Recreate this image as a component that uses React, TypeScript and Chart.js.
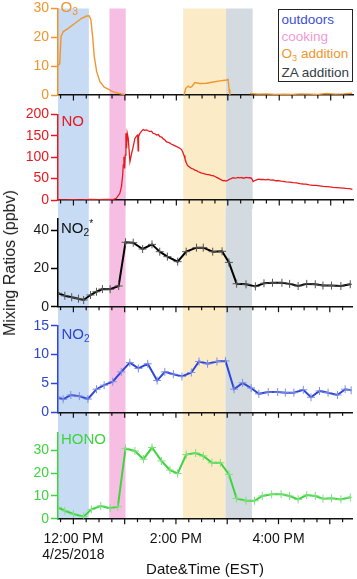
import React, { useEffect, useRef } from "react";
import { Chart, registerables } from "chart.js";

Chart.register(...registerables);

const FONT = "'Liberation Sans', Arial, Helvetica, sans-serif";

// ---- time axis (minutes since midnight, 4/25/2018) ----
const xMinMinutes = 702;
const xMaxMinutes = 1046;
const xTickStep = 15;
const xMajorLabelMinutes = [720, 840, 960];
const xMajorLabels: (string | string[])[] = [["12:00 PM", "4/25/2018"], "2:00 PM", "4:00 PM"];
const xTitle = "Date&Time (EST)";
const yTitle = "Mixing Ratios (ppbv)";

// ---- shaded periods ----
const bandStart = [702, 762, 848, 898];
const bandEnd = [738, 781, 898, 929];
const bandFill = ["#c7dbf5", "#f7bee3", "#fcebc7", "#d3dbe0"];

// ---- O3 ----
const o3Times = [702, 704, 705.5, 708.2, 714, 721.8, 729.6, 735.4, 738.5, 740.4, 742.4, 744.3, 747.1, 750.9, 755.9, 760.6, 766.4, 772.2, 780, 790,
  849, 851, 853.8, 856, 858, 861.6, 867.4, 875.2, 883, 890.7, 898.5, 900.4, 901.5, 902.4, 912,
  926, 935, 945, 955, 965, 975, 985, 995, 1005, 1015, 1025, 1035, 1045];
const o3Values: (number | null)[] = [10.2, 10.8, 20.2, 22, 23.1, 24.9, 26.6, 27.4, 27.4, 26, 20.2, 13.3, 8.1, 4.6, 2.7, 2.0, 1.1, 0.6, 0.1, null,
  0, 2.3, 3.1, 2.6, 2.9, 4.3, 4.0, 4.1, 4.5, 4.9, 5.2, 5.4, 2, 0, null,
  0.5, 0.3, 0.4, 0.2, 0.3, 0.2, 0.4, 0.3, 0.2, 0.5, 0.3, 0.4, 0.6];

// ---- NO ----
const noTimes = [702, 710, 720, 730, 740, 750, 760, 766, 770, 774, 776, 777.4, 778.1, 778.9, 779.7, 780.4, 781.2, 782, 782.7, 783.9,
  785.9, 787.9, 789.7, 791.7, 793.7, 794.9, 795.5, 795.9, 797.5, 799.5, 801.4, 803, 805.3, 807, 809.2, 811, 813, 815, 817, 819,
  820.8, 823, 824.7, 826.5, 828.6, 830.5, 832.5, 834, 836.3, 838, 840.3, 842, 844.1, 846, 847.3, 849, 850, 851.5, 852.7, 854,
  855.8, 857.5, 859.6, 861.5, 863.6, 865.5, 867.4, 869.5, 871.3, 873, 875.2, 877, 879.1, 881, 883, 885, 886.9, 888.8, 890.7, 892.5,
  894.6, 896, 897.7, 900, 902.4, 904, 906.2, 908, 910.2, 912, 914, 916, 918, 921.8, 924, 926, 927.7, 929.5, 931, 933.5,
  936, 938.5, 941.2, 944, 947, 950, 952.8, 956, 959, 962, 964.5, 968, 972, 976.1, 980, 984, 987.8, 991, 995, 999.4,
  1003, 1007, 1011.1, 1015, 1019, 1022.7, 1027, 1031, 1034.4, 1038, 1042, 1045.3];
const noValues = [0.5, 0.3, 1.0, 0.5, 1.2, 0.8, 1.5, 1, 4, 15, 31, 58, 82, 101, 74, 105, 156, 121, 156, 144,
  90, 109, 125, 144, 150, 152, 115, 148, 156, 161, 165, 163, 164, 162, 160, 161, 156, 155, 152, 153,
  148, 147, 143, 141, 136, 135, 133, 131, 129, 127, 125, 123, 121, 118, 113, 104, 97, 88, 82, 79,
  76.5, 74, 72.5, 70, 68.6, 66, 64.7, 63, 62.4, 61, 60, 59.5, 58.5, 57, 57, 55, 53, 51, 49, 47,
  45, 46, 44.4, 46, 49, 50, 52, 51, 52, 53, 52, 53, 51, 53, 52, 52, 50.7, 43, 45, 47,
  49, 48, 48.4, 47, 48, 46.5, 46.8, 45, 45.5, 44, 43.7, 42.5, 42, 40.6, 40, 38.5, 37.4, 37, 35.5, 34.3,
  34, 33, 32, 31.5, 30.5, 29.6, 29, 28.5, 28, 27, 26.5, 25];

// ---- NO2* ----
const no2sTimes = [702, 710, 718, 726, 732, 740, 747, 754, 763, 773, 781, 790, 801, 812, 821, 830, 842, 852, 864, 872,
  883, 894, 902, 911, 922, 933, 943, 953, 964, 973, 983, 993, 1003, 1012, 1022, 1033, 1044];
const no2sValues = [7.0, 5.7, 4.9, 4.2, 3.5, 6.1, 7.8, 9.2, 9.1, 10.8, 33.6, 33.4, 30.1, 32.5, 28.7, 26.1, 23.5, 28.7, 30.8, 30.8,
  28.7, 28.9, 23.1, 12.0, 11.7, 10.6, 12.2, 12.5, 12.5, 11.9, 10.8, 11.9, 11.7, 11.0, 11.0, 10.8, 11.7];

// ---- NO2 ----
const no2Times = [702, 708, 717, 727, 737, 747, 756, 766, 776, 786, 796, 807, 818, 827, 837, 847, 858, 867, 877, 888,
  898, 908, 918, 928, 937, 948, 959, 968, 978, 989, 998, 1008, 1018, 1029, 1038, 1045];
const no2Values = [2.6, 2.25, 3.0, 2.8, 2.3, 4.0, 4.7, 5.3, 7.0, 8.6, 7.6, 8.4, 5.5, 7.0, 6.6, 6.2, 6.9, 8.8, 8.4, 8.8,
  8.9, 4.0, 5.1, 4.2, 3.2, 3.5, 3.5, 3.4, 3.4, 3.9, 2.6, 3.7, 3.4, 3.0, 4.0, 3.8];

// ---- HONO ----
const honoTimes = [702, 710, 720, 732, 741, 752, 763, 772, 781, 792, 802, 812, 823, 833, 842, 852, 863, 872, 882, 892,
  902, 911, 922, 932, 941, 952, 963, 973, 983, 993, 1003, 1012, 1022, 1033, 1044];
const honoValues = [5.0, 3.5, 2.1, 0.9, 4.1, 5.6, 4.6, 5.3, 30.9, 29.8, 26.2, 31.3, 25.4, 21.4, 19.9, 28.2, 28.9, 27.6, 24.6, 24.6,
  19.5, 8.9, 7.9, 7.9, 10.0, 10.7, 10.8, 10.0, 8.5, 10.4, 10.0, 8.8, 9.0, 8.5, 9.4];

type PanelDef = {
  name: string;
  top: number;
  height: number;
  padTop: number;
  axisH: number;
  yMax: number;
  yStep: number;
  color: string;
  tickColor: string;
  markerColor: string;
  times: number[];
  values: (number | null)[];
  lineWidth: number;
  markers: boolean;
  last: boolean;
  first: boolean;
};

const panels: PanelDef[] = [
  { name: "o3", top: -4, height: 108, padTop: 12.5, axisH: 9, yMax: 30, yStep: 10, color: "#f0952d", tickColor: "#f0952d", markerColor: "#f0952d",
    times: o3Times, values: o3Values, lineWidth: 1.4, markers: false, last: false, first: true },
  { name: "no", top: 104, height: 105, padTop: 10.5, axisH: 9, yMax: 200, yStep: 50, color: "#e8191e", tickColor: "#e8191e", markerColor: "#e8191e",
    times: noTimes, values: noValues, lineWidth: 1.3, markers: false, last: false, first: false },
  { name: "no2s", top: 209, height: 107, padTop: 9.5, axisH: 9.3, yMax: 46, yStep: 20, color: "#000000", tickColor: "#1a1a1a", markerColor: "#555555",
    times: no2sTimes, values: no2sValues, lineWidth: 2, markers: true, last: false, first: false },
  { name: "no2", top: 316, height: 106, padTop: 9.7, axisH: 9.7, yMax: 15, yStep: 5, color: "#2d45d8", tickColor: "#2d45d8", markerColor: "#7f8fe0",
    times: no2Times, values: no2Values, lineWidth: 2, markers: true, last: false, first: false },
  { name: "hono", top: 422, height: 157, padTop: 10.3, axisH: 60.3, yMax: 38, yStep: 10, color: "#3ed43e", tickColor: "#3ed43e", markerColor: "#7fe07f",
    times: honoTimes, values: honoValues, lineWidth: 2, markers: true, last: true, first: false },
];

function makePlugin(p: PanelDef) {
  return {
    id: "bandsAndTicks",
    beforeDraw(chart: any) {
      const { ctx, chartArea, scales } = chart;
      const x = scales.x;
      const top = p.first ? chartArea.top : 0;
      const bottom = p.last ? chartArea.bottom : chart.height;
      ctx.save();
      bandStart.forEach((s, i) => {
        const x0 = x.getPixelForValue(s);
        const x1 = x.getPixelForValue(bandEnd[i]);
        ctx.fillStyle = bandFill[i];
        ctx.fillRect(x0, top, x1 - x0, bottom - top);
      });
      ctx.restore();
    },
    afterDraw(chart: any) {
      const { ctx, chartArea, scales } = chart;
      const x = scales.x;
      ctx.save();
      ctx.strokeStyle = "#111111";
      ctx.lineWidth = 1.2;
      x.ticks.forEach((t: any) => {
        const px = x.getPixelForValue(t.value);
        const len = t.value % 60 === 0 ? 5.5 : 3.5;
        ctx.beginPath();
        ctx.moveTo(px, chartArea.bottom);
        ctx.lineTo(px, chartArea.bottom + len);
        ctx.stroke();
      });
      ctx.restore();
    },
  };
}

function PanelChart({ p }: { p: PanelDef }) {
  const ref = useRef<HTMLCanvasElement>(null);
  useEffect(() => {
    const canvas = ref.current;
    if (!canvas) return;
    const data = p.times.map((t, i) => ({ x: t, y: p.values[i] }));
    const chart = new Chart(canvas, {
      type: "line",
      data: {
        datasets: [
          {
            data: data as any,
            borderColor: p.color,
            borderWidth: p.lineWidth,
            pointStyle: "cross",
            pointRadius: p.markers ? 4 : 0,
            pointHoverRadius: 0,
            pointBorderColor: p.markerColor,
            pointBorderWidth: 1,
            tension: 0,
            spanGaps: false,
            fill: false,
          },
        ],
      },
      options: {
        animation: false,
        responsive: false,
        maintainAspectRatio: false,
        events: [],
        layout: { padding: { left: 0, right: 4, top: p.padTop, bottom: 0 } },
        plugins: { legend: { display: false }, tooltip: { enabled: false }, title: { display: false } },
        scales: {
          x: {
            type: "linear",
            min: xMinMinutes,
            max: xMaxMinutes,
            afterFit: (s: any) => {
              s.height = p.axisH;
            },
            border: { display: true, color: "#111111", width: 1.5 },
            grid: { display: false, drawTicks: false, tickLength: 0 },
            ticks: {
              display: p.last,
              stepSize: xTickStep,
              includeBounds: false,
              autoSkip: false,
              maxRotation: 0,
              minRotation: 0,
              padding: 12,
              color: "#111111",
              font: { family: FONT, size: 14, lineHeight: 1.15 },
              callback: (v: any) => {
                const idx = xMajorLabelMinutes.indexOf(Number(v));
                return idx >= 0 ? xMajorLabels[idx] : "";
              },
            },
            title: {
              display: p.last,
              text: xTitle,
              color: "#111111",
              font: { family: FONT, size: 15, lineHeight: 1.2 },
              padding: { top: 0, bottom: 0 },
            },
          },
          y: {
            type: "linear",
            min: 0,
            max: p.yMax,
            afterFit: (s: any) => {
              s.width = 58;
            },
            border: { display: true, color: p.color, width: 1.5 },
            grid: { drawOnChartArea: false, drawTicks: true, tickLength: 7, tickColor: p.color, tickWidth: 1.5 },
            ticks: {
              stepSize: p.yStep,
              includeBounds: false,
              padding: 2,
              color: p.tickColor,
              font: { family: FONT, size: 14, lineHeight: 1 },
            },
          },
        },
      },
      plugins: [makePlugin(p)],
    } as any);
    return () => chart.destroy();
  }, []);
  return (
    <canvas
      ref={ref}
      width={357}
      height={p.height}
      style={{ position: "absolute", left: 0, top: p.top, width: 357, height: p.height }}
    />
  );
}

const labelBase: React.CSSProperties = {
  position: "absolute",
  fontFamily: FONT,
  fontSize: 15,
  lineHeight: 1,
  whiteSpace: "nowrap",
};
const subStyle: React.CSSProperties = { fontSize: "68%", position: "relative", top: "0.3em", verticalAlign: "baseline" };
const supStyle: React.CSSProperties = { fontSize: "68%", position: "relative", top: "-0.55em", verticalAlign: "baseline" };

export default function App() {
  return (
    <div style={{ position: "absolute", left: 0, top: 0, width: 357, height: 579, overflow: "hidden", background: "#ffffff" }}>
      {panels.map((p) => (
        <PanelChart key={p.name} p={p} />
      ))}

      {/* panel labels */}
      <div style={{ ...labelBase, left: 60.5, top: -0.9, color: "#f0952d" }}>
        O<span style={subStyle}>3</span>
      </div>
      <div style={{ ...labelBase, left: 61.5, top: 113.2, color: "#e8191e" }}>NO</div>
      <div style={{ ...labelBase, left: 61, top: 219.7, color: "#111111" }}>
        NO<span style={subStyle}>2</span>
        <span style={supStyle}>*</span>
      </div>
      <div style={{ ...labelBase, left: 61.5, top: 325.7, color: "#2d45d8" }}>
        NO<span style={subStyle}>2</span>
      </div>
      <div style={{ ...labelBase, left: 61, top: 430.7, color: "#3ed43e" }}>HONO</div>

      {/* legend */}
      <div
        style={{
          position: "absolute",
          left: 278,
          top: 8.5,
          width: 75,
          height: 73.5,
          boxSizing: "border-box",
          border: "1.5px solid #222222",
          background: "#ffffff",
          paddingTop: 1.5,
          paddingLeft: 2.5,
          fontFamily: FONT,
          fontSize: 13.5,
          lineHeight: "17px",
          whiteSpace: "nowrap",
        }}
      >
        <div style={{ color: "#3b4fd8" }}>outdoors</div>
        <div style={{ color: "#f29ad3" }}>cooking</div>
        <div style={{ color: "#f0952d" }}>
          O<span style={subStyle}>3</span> addition
        </div>
        <div style={{ color: "#333d45" }}>ZA addition</div>
      </div>

      {/* y title */}
      <div
        style={{
          position: "absolute",
          left: 10,
          top: 263,
          transform: "translate(-50%, -50%) rotate(-90deg)",
          fontFamily: FONT,
          fontSize: 16,
          lineHeight: 1,
          color: "#1a1a1a",
          whiteSpace: "nowrap",
        }}
      >
        {yTitle}
      </div>
    </div>
  );
}
